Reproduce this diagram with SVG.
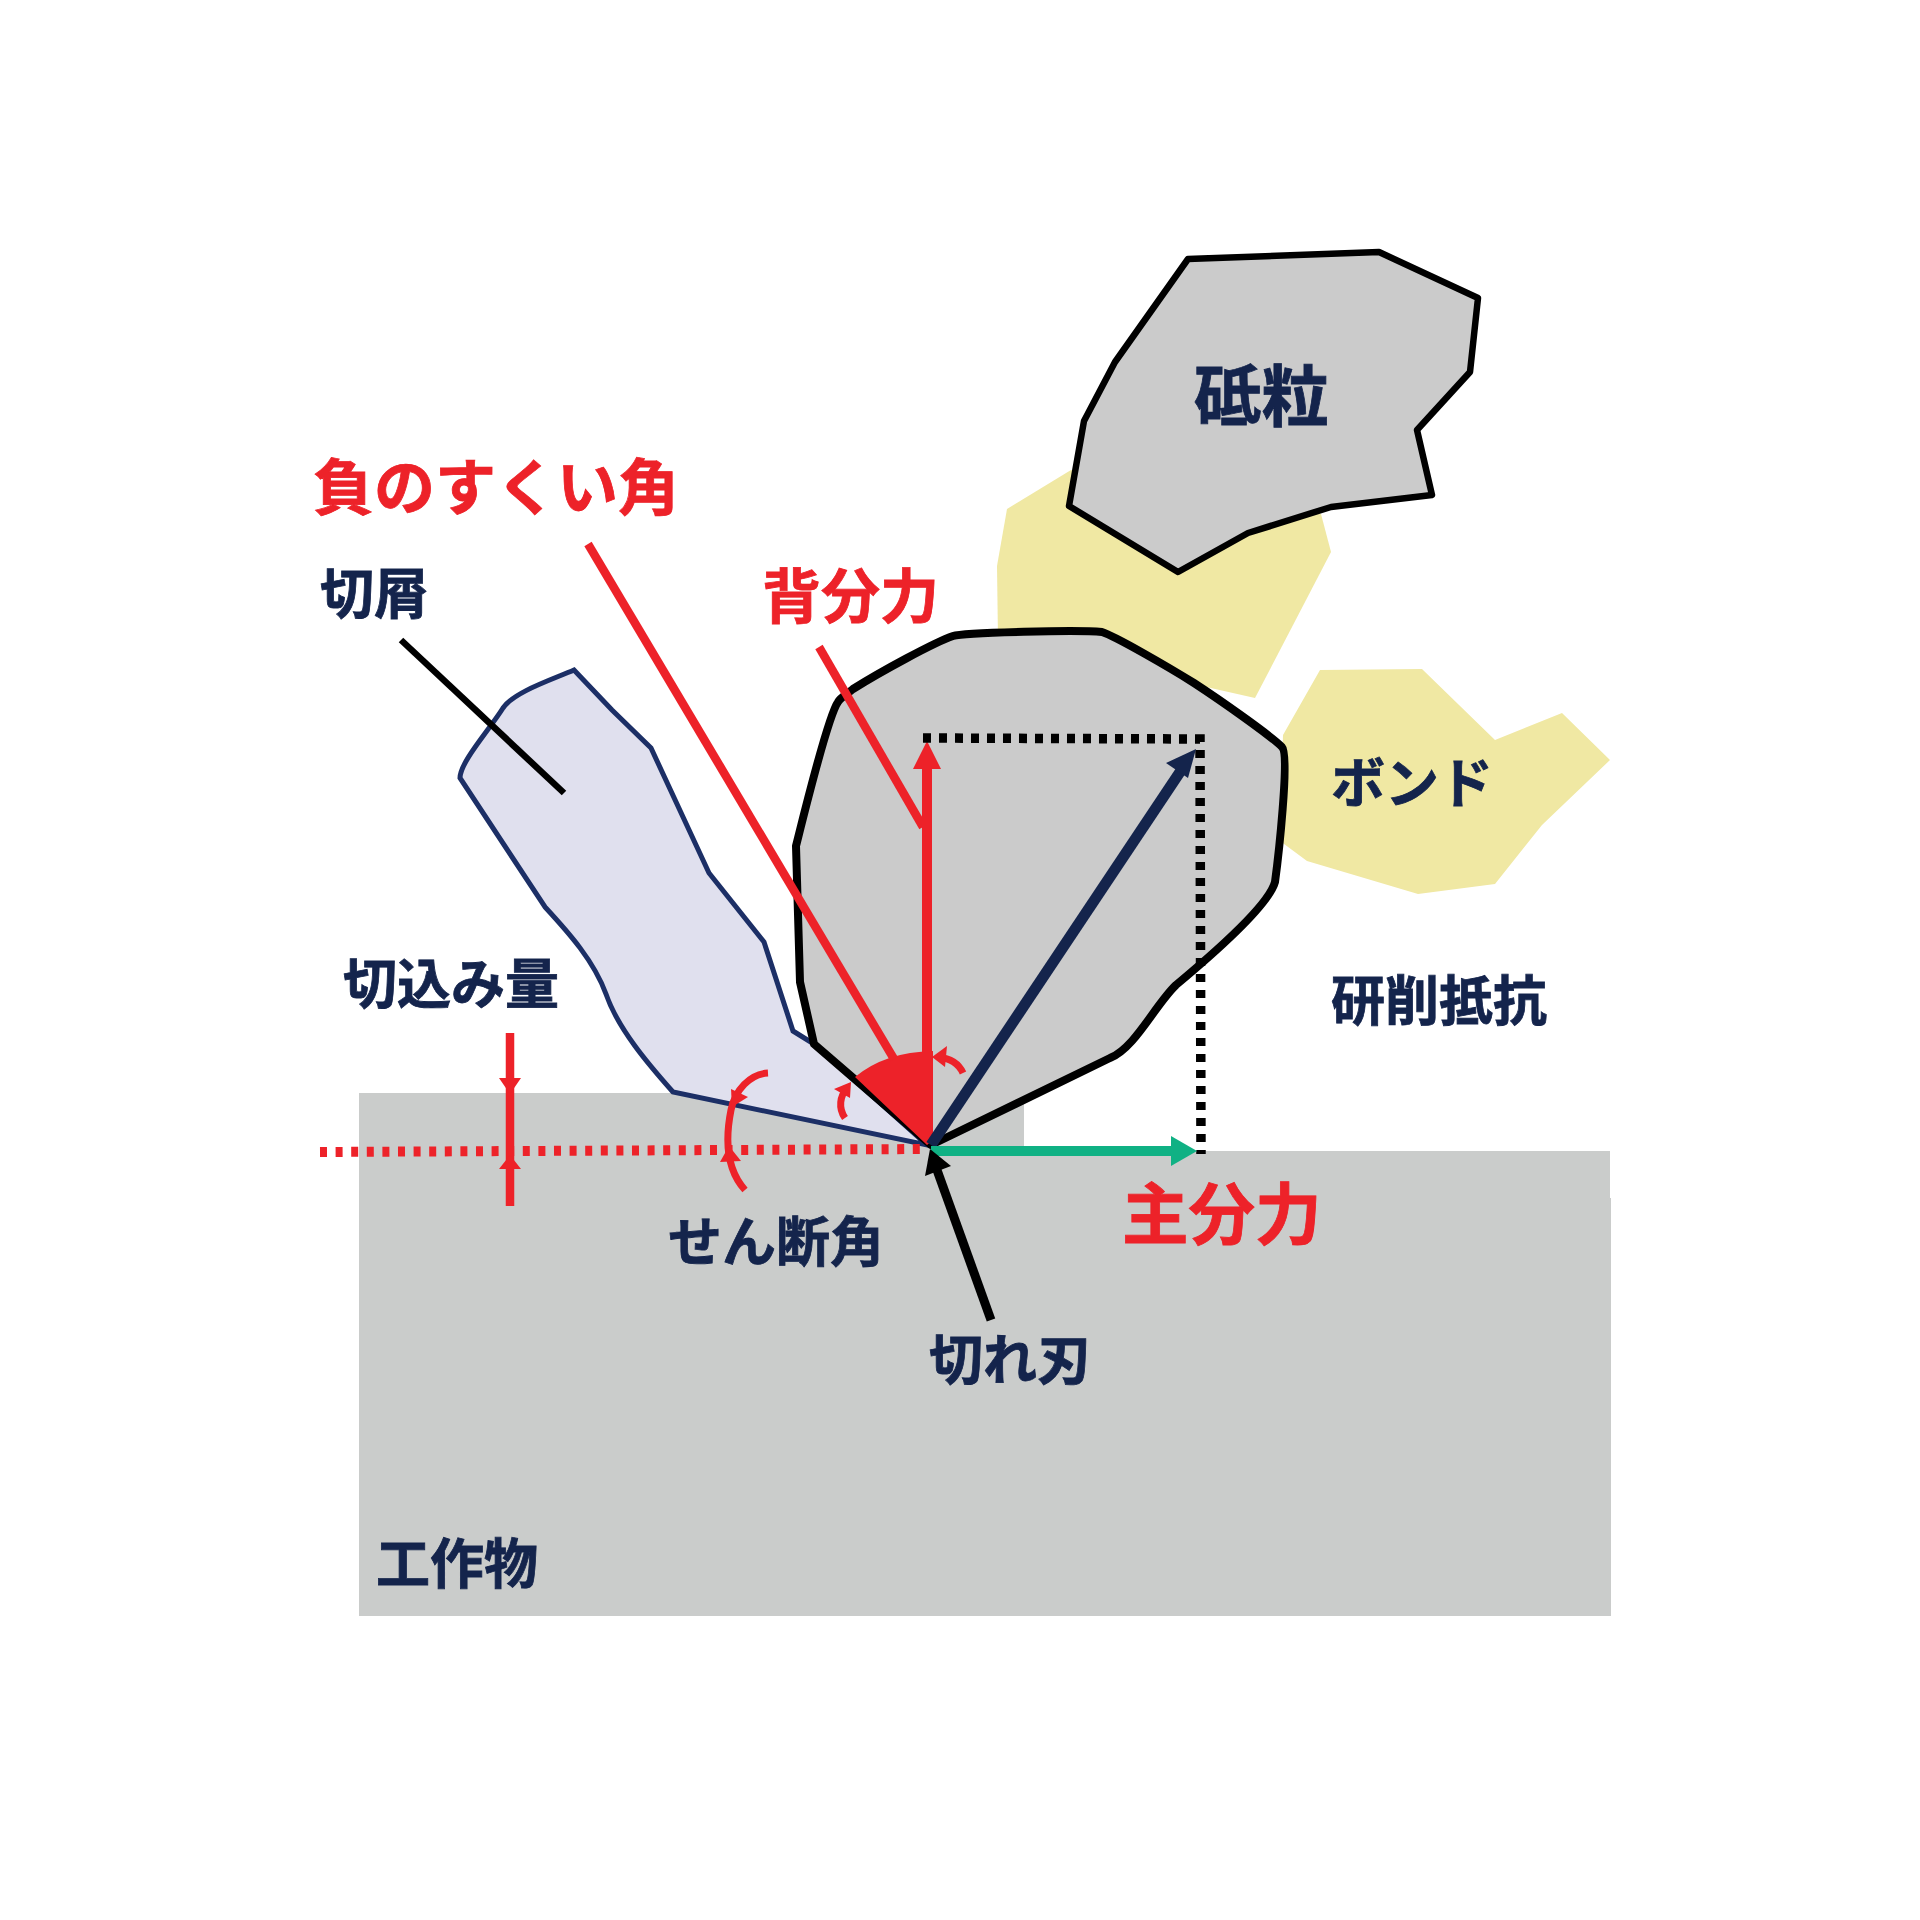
<svg xmlns="http://www.w3.org/2000/svg" width="1920" height="1920" viewBox="0 0 1920 1920">
<style>
text{font-family:"Noto Sans CJK JP","Noto Sans",sans-serif;font-weight:700;stroke-width:0.8}
.n{fill:#14244c;stroke:#14244c;font-size:54px}
.r{fill:#ed2229}
text.r{stroke:#ed2229}
.rl{fill:none;stroke:#ed2229;stroke-width:8.5}
.ra{fill:none;stroke:#ed2229;stroke-width:7}
.g{fill:#cbcbcb;stroke:#000;stroke-linejoin:round}
</style>
<rect width="1920" height="1920" fill="#fff"/>
<g id="workpiece">
<path d="M359 1093H1024V1151H1610V1198H1611V1616H359Z" fill="#cacccb"/>
<text class="n" x="376" y="1584">工作物</text>
</g>
<g id="bond">
<polygon points="1071,470 1007,509 997,566 998,640 1255,698 1292,627 1331,552 1321,514" fill="#f0e8a3"/>
<polygon points="1320,670 1422,669 1495,740 1562,713 1610,760 1542,825 1495,884 1418,894 1307,861 1280,841 1283,735" fill="#f0e8a3"/>
<text class="n" x="1331" y="803">ボンド</text>
</g>
<g id="grain-top">
<polygon class="g" stroke-width="6.5" points="1188,259 1379,252 1478,298 1470,372 1417,430 1432,495 1331,507 1248,533 1178,572 1069,506 1084,421 1115,362"/>
<text class="n" style="font-size:67.5px" x="1194" y="421">砥粒</text>
</g>
<g id="chip">
<path d="M574 670L612 710L651 748L709 873L764 942L793 1031L814 1044L927 1145L673 1092C649 1065 618 1029 606 994C594 961 569 933 545 907L460 778C460 762 490 729 503 708C514 692 551 680 574 670Z" fill="#e0e0ee" stroke="#1c2f66" stroke-width="5"/>
<text class="n" x="320" y="614">切屑</text>
</g>
<g id="grain-main">
<path class="g" stroke-width="8" d="M814 1044L800 982L796 846C806 806 828 716 838 702C841 697 846 695 853 689C880 672 935 642 953 636C965 632 1080 630 1102 632C1115 636 1170 668 1194 683C1220 700 1270 735 1282 747C1290 755 1278 860 1275 882C1268 908 1200 965 1176 985C1155 1005 1135 1048 1110 1058L931 1145Z"/>
</g>
<g id="connectors">
<path class="r" d="M927 1145L855 1077Q885 1052 933 1051V1140Z"/>
<path class="rl" d="M588 544L894 1059"/>
<path class="rl" d="M819 647L923 827"/>
<path class="rl" style="stroke-width:10" d="M927 1140V765"/>
<polygon class="r" points="927,741 913,769 941,769"/>
<path d="M923 738L1200 739L1201 1154" fill="none" stroke="#000" stroke-width="9.5" stroke-dasharray="8 8"/>
<path d="M931 1145L1182 769" fill="none" stroke="#14244c" stroke-width="11"/>
<polygon points="1196,749 1166,763 1188,778" fill="#14244c"/>
<path d="M931 1151H1175" fill="none" stroke="#10b184" stroke-width="10"/>
<polygon points="1197,1151 1171,1136 1171,1166" fill="#10b184"/>
<path d="M991 1320L937 1170" fill="none" stroke="#000" stroke-width="9"/>
<polygon points="930,1149 925,1176 951,1166" fill="#000"/>
<path d="M320 1152L925 1149" fill="none" stroke="#ed2229" stroke-width="10" stroke-dasharray="7 8.6"/>
<path class="rl" d="M510 1033V1206"/>
<polygon class="r" points="510,1094 499,1078 521,1078"/>
<polygon class="r" points="510,1155 499,1169 521,1169"/>
<path class="ra" d="M963 1073C958 1062 948 1058 938 1057"/>
<polygon class="r" points="932,1057 947,1046 945,1067"/>
<path class="ra" d="M845 1118C838 1108 840 1096 847 1088"/>
<polygon class="r" points="851,1082 834,1089 850,1098"/>
<path class="ra" d="M768 1073C750 1074 735 1090 731 1110C725 1140 727 1170 745 1190"/>
<polygon class="r" points="731,1089 732,1107 748,1097"/>
<polygon class="r" points="729,1146 720,1162 741,1161"/>
</g>
<g id="labels">
<text class="r" style="font-size:61px" x="313" y="510">負のすくい角</text>
<text class="r" style="font-size:59px" x="762" y="618">背分力</text>
<text class="r" style="font-size:66.5px" x="1122" y="1239">主分力</text>
<text class="n" x="1331" y="1021">研削抵抗</text>
<text class="n" x="343" y="1004">切込み量</text>
<text class="n" x="668" y="1262">せん断角</text>
<text class="n" x="929" y="1380">切れ刃</text>
<path d="M401 640L564 793" fill="none" stroke="#000" stroke-width="6.5"/>
</g>
</svg>
